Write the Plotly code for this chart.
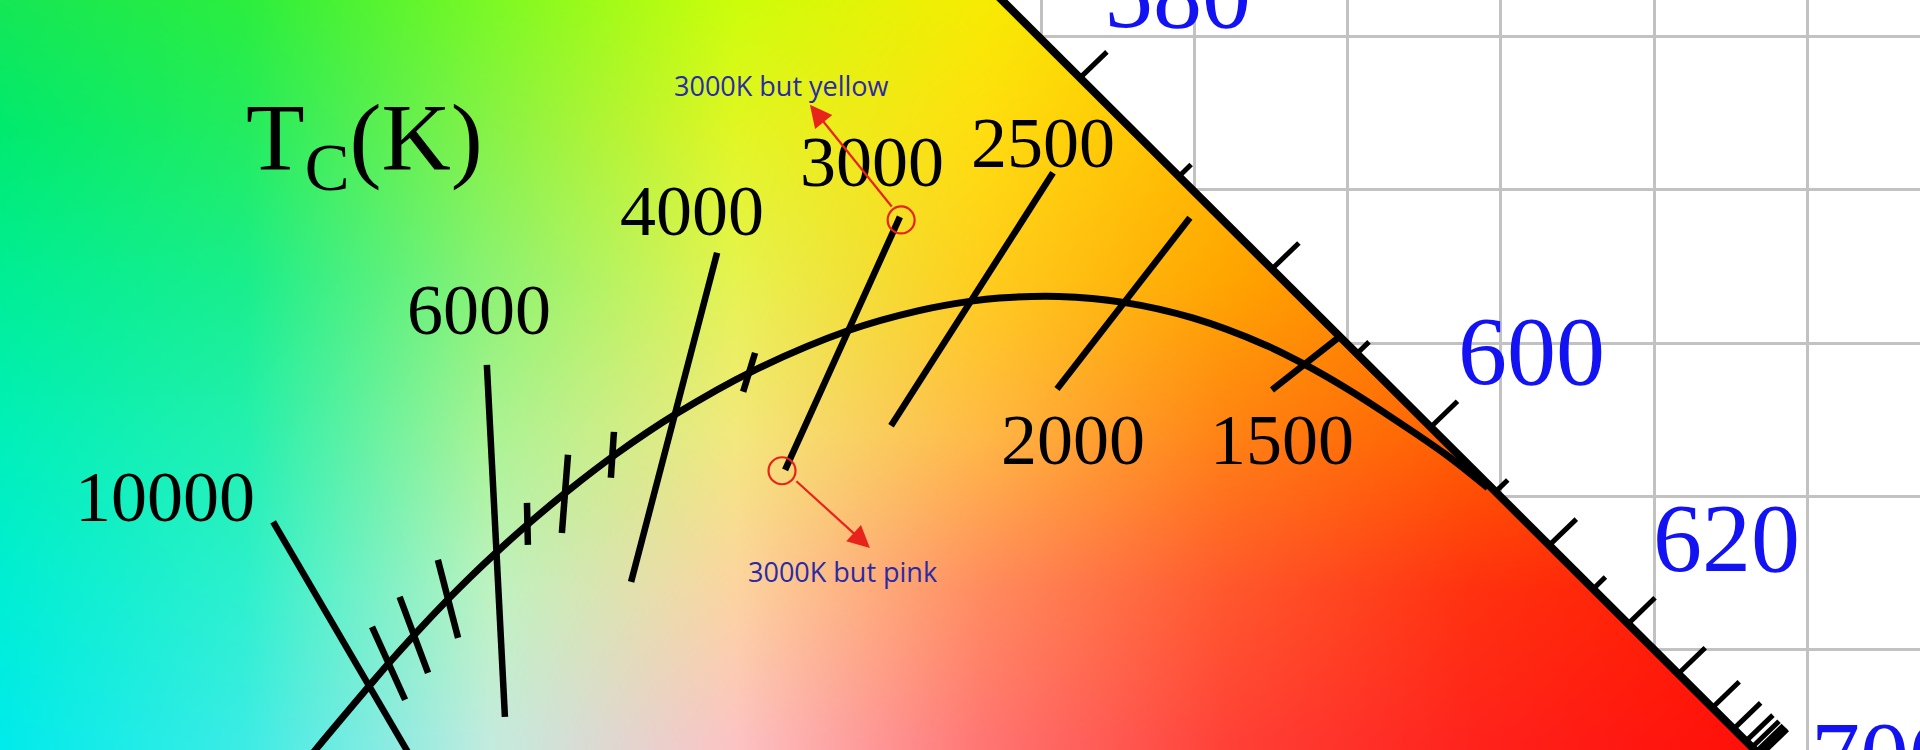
import numpy as np
import plotly.graph_objects as go

# CIE 1931 xy, zoomed on the warm corner of the diagram

# spectral locus, 575-700 nm
locus_nm = [575, 580, 585, 590, 595, 600, 605, 610, 615, 620, 625, 630, 635,
            640, 645, 650, 655, 660, 665, 670, 675, 680, 685, 690, 695, 700]
locus_x = [0.4788, 0.5125, 0.5448, 0.5752, 0.6029, 0.6270, 0.6482, 0.6658, 0.6801,
           0.6915, 0.7006, 0.7079, 0.7140, 0.7190, 0.7230, 0.7260, 0.7283, 0.7300,
           0.7311, 0.7320, 0.7327, 0.7334, 0.7340, 0.7344, 0.7346, 0.7347]
locus_y = [0.5202, 0.4866, 0.4544, 0.4242, 0.3965, 0.3725, 0.3514, 0.3340, 0.3197,
           0.3083, 0.2993, 0.2920, 0.2859, 0.2809, 0.2770, 0.2740, 0.2717, 0.2700,
           0.2689, 0.2680, 0.2673, 0.2666, 0.2660, 0.2656, 0.2654, 0.2653]

tick_nm = [580, 585, 590, 595, 600, 605, 610, 615, 620, 630, 640, 650, 660, 670, 680, 690, 700]
short_tick_nm = [585, 595, 605, 615]

wl_labels = ["580", "600", "620", "700"]
wl_label_x = [0.5445, 0.6598, 0.7238, 0.7751]
wl_label_y = [0.5115, 0.3975, 0.3364, 0.2675]

# Planckian locus (warm end to cold end)
planck_x = [0.6457, 0.6317, 0.6114, 0.5985, 0.5857, 0.5732, 0.5493, 0.5267, 0.5056,
            0.4862, 0.4770, 0.4599, 0.4369, 0.4053, 0.3805, 0.3608, 0.3451, 0.3325,
            0.3221, 0.3135, 0.3064, 0.2952, 0.2869, 0.2807, 0.2718, 0.2637, 0.2565]
planck_y = [0.3527, 0.3638, 0.3776, 0.3858, 0.3931, 0.3993, 0.4082, 0.4133, 0.4152,
            0.4147, 0.4137, 0.4106, 0.4041, 0.3907, 0.3768, 0.3636, 0.3516, 0.3411,
            0.3318, 0.3237, 0.3166, 0.3048, 0.2956, 0.2884, 0.2779, 0.2682, 0.2589]

# isotherms: end points
iso_temp = [10000, 9000, 8000, 7000, 6000, 5500, 5000, 4500, 4000, 3500, 3000, 2500, 2000, 1500]
iso_x0 = [0.2490, 0.2813, 0.2903, 0.3028, 0.3188, 0.3319, 0.3453, 0.3603, 0.3940, 0.4064, 0.4537, 0.5037, 0.5484, 0.5968]
iso_y0 = [0.3416, 0.3073, 0.3171, 0.3292, 0.3929, 0.3478, 0.3635, 0.3710, 0.4295, 0.3968, 0.4412, 0.4556, 0.4409, 0.4017]
iso_x1 = [0.3002, 0.2921, 0.2996, 0.3094, 0.3247, 0.3322, 0.3433, 0.3593, 0.3659, 0.4025, 0.4162, 0.4508, 0.5050, 0.5752]
iso_y1 = [0.2541, 0.2835, 0.2923, 0.3037, 0.2779, 0.3341, 0.3380, 0.3560, 0.3220, 0.3841, 0.3586, 0.3730, 0.3850, 0.3847]

iso_labels = ["10000", "6000", "4000", "3000", "2500", "2000", "1500"]
iso_label_x = [0.2137, 0.3162, 0.3858, 0.4446, 0.5004, 0.5102, 0.5785]
iso_label_y = [0.3498, 0.4108, 0.4432, 0.4592, 0.4654, 0.3684, 0.3684]

# the two marked ends of the 3000 K isotherm
notes = ["3000K but yellow", "3000K but pink"]
note_x = [0.4149, 0.4348]
note_y = [0.4840, 0.3253]
mark_x = [0.4541, 0.4152]
mark_y = [0.4402, 0.3583]
arrow_from_x = [0.4514, 0.4194]
arrow_from_y = [0.4441, 0.3553]
arrow_to_x = [0.4243, 0.4439]
arrow_to_y = [0.4778, 0.3331]

# background colour (rows bottom -> top)
bg_x = [0.16, 0.24, 0.32, 0.40, 0.48, 0.56, 0.64, 0.72, 0.80]
bg_y = [0.27, 0.32, 0.37, 0.42, 0.47, 0.52]
bg_r = [[0, 60, 195, 252, 255, 255, 255, 255, 255],
        [0, 45, 190, 252, 255, 255, 255, 255, 255],
        [0, 35, 170, 243, 255, 255, 255, 255, 255],
        [0, 25, 140, 230, 255, 255, 255, 255, 255],
        [0, 35, 135, 225, 255, 255, 255, 255, 255],
        [25, 45, 120, 200, 245, 255, 255, 255, 255]]
bg_g = [[235, 236, 235, 195, 118, 65, 35, 18, 10],
        [238, 240, 242, 212, 140, 88, 50, 28, 20],
        [240, 240, 243, 232, 185, 130, 95, 65, 50],
        [238, 238, 242, 243, 205, 165, 125, 95, 80],
        [234, 236, 242, 246, 222, 185, 150, 120, 100],
        [230, 238, 250, 255, 238, 210, 180, 150, 130]]
bg_b = [[235, 228, 222, 195, 115, 55, 28, 10, 0],
        [212, 205, 192, 160, 95, 45, 15, 0, 0],
        [185, 175, 148, 125, 70, 20, 0, 0, 0],
        [150, 140, 115, 80, 30, 0, 0, 0, 0],
        [110, 95, 70, 35, 15, 0, 0, 0, 0],
        [80, 55, 30, 5, 0, 0, 0, 0, 0]]

# view: 3062 px per chromaticity unit
S = 3062.0
X_LO, Y_LO = 0.1598, 0.2671
X_HI = X_LO + 1920 / S
Y_HI = Y_LO + 750 / S

# colour field, transparent right of the spectral locus
cell = 3 / S
cx = X_LO + cell * (np.arange(int(1920 / 3)) + 0.5)
cy = Y_LO + cell * (np.arange(int(750 / 3)) + 0.5)


def channel(grid):
    g = np.array(grid, float)
    rows = np.array([np.interp(cx, bg_x, r) for r in g])
    return np.array([np.interp(cy, bg_y, rows[:, j]) for j in range(len(cx))]).T


edge = np.interp(cy, locus_y[::-1], locus_x[::-1])
inside = (cx[None, :] < edge[:, None]).astype(np.uint8)
z = np.dstack([channel(bg_r), channel(bg_g), channel(bg_b)]).round().clip(0, 255).astype(np.uint8)
z = np.dstack([z, inside])

fig = go.Figure()
fig.add_trace(go.Image(z=z.tolist(), colormodel="rgba", x0=cx[0], dx=cell, y0=cy[0], dy=cell,
                       hoverinfo="skip"))

# isotherms
ix, iy = [], []
for a, b, c, d in zip(iso_x0, iso_y0, iso_x1, iso_y1):
    ix += [a, c, None]
    iy += [b, d, None]
fig.add_trace(go.Scatter(x=ix, y=iy, mode="lines", line=dict(color="black", width=6.5), hoverinfo="skip"))

fig.add_trace(go.Scatter(x=planck_x, y=planck_y, mode="lines",
                         line=dict(color="black", width=7, shape="spline", smoothing=1),
                         hoverinfo="skip"))

fig.add_trace(go.Scatter(x=locus_x, y=locus_y, mode="lines",
                         line=dict(color="black", width=8), hoverinfo="skip"))

# wavelength ticks on the outside of the locus
tx, ty = [], []
for nm in tick_nm:
    k = locus_nm.index(nm)
    d = (0.0040, 0.0039) if nm in short_tick_nm else (0.0088, 0.0085)
    tx += [locus_x[k], locus_x[k] + d[0], None]
    ty += [locus_y[k], locus_y[k] + d[1], None]
fig.add_trace(go.Scatter(x=tx, y=ty, mode="lines", line=dict(color="black", width=5), hoverinfo="skip"))

fig.add_trace(go.Scatter(x=mark_x, y=mark_y, mode="markers",
                         marker=dict(symbol="circle-open", size=27, color="#e8231c", line=dict(width=2.2)),
                         hoverinfo="skip"))

for t, x, y in zip(iso_labels, iso_label_x, iso_label_y):
    fig.add_annotation(x=x, y=y, text=t, showarrow=False,
                       font=dict(family="Liberation Serif", size=72, color="black"))

for t, x, y, dy in zip(wl_labels, wl_label_x, wl_label_y, [8, 0, 0, -7]):
    fig.add_annotation(x=x, y=y, text=t, showarrow=False, yshift=dy,
                       font=dict(family="Liberation Serif", size=98, color="#1212f2"))

fig.add_annotation(x=0.2395, y=0.4650, text="T<sub>C</sub>(K)", showarrow=False, xanchor="left",
                   font=dict(family="Liberation Serif", size=96, color="black"))

for t, x, y in zip(notes, note_x, note_y):
    fig.add_annotation(x=x, y=y, text=t, showarrow=False,
                       font=dict(family="Open Sans", size=27, color="#2a2aa6"))

for x0, y0, x1, y1 in zip(arrow_from_x, arrow_from_y, arrow_to_x, arrow_to_y):
    fig.add_annotation(x=x1, y=y1, ax=x0, ay=y0, xref="x", yref="y", axref="x", ayref="y",
                       text="", showarrow=True, arrowhead=2, arrowsize=2.0, arrowwidth=2.2,
                       arrowcolor="#e8231c")

fig.update_xaxes(range=[X_LO, X_HI], tick0=0, dtick=0.05, showgrid=True, gridcolor="#c2c2c2",
                 gridwidth=3, zeroline=False, showline=False, showticklabels=False, ticks="")
fig.update_yaxes(range=[Y_LO, Y_HI], tick0=0, dtick=0.05, showgrid=True, gridcolor="#c2c2c2",
                 gridwidth=3, zeroline=False, showline=False, showticklabels=False, ticks="")
fig.update_layout(width=1920, height=750, margin=dict(l=0, r=0, t=0, b=0),
                  paper_bgcolor="white", plot_bgcolor="white", showlegend=False)

fig.write_html("out.html", config={"displayModeBar": False},
               post_script="document.body.style.margin='0';")
